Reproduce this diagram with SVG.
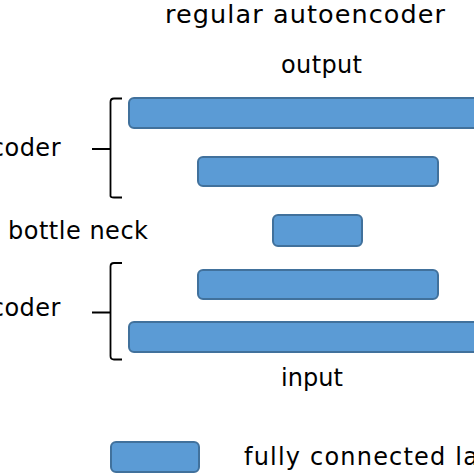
<svg xmlns="http://www.w3.org/2000/svg" width="474" height="474" viewBox="0 0 474 474">
<style>
.t{font-family:"DejaVu Sans","Liberation Sans",sans-serif;font-size:24px;fill:#000}
.bar{fill:#5b9bd5;stroke:#41719c;stroke-width:2}
.br{fill:none;stroke:#000;stroke-width:1.8}
</style>
<rect width="474" height="474" fill="#fff"/>
<text class="t" x="165" y="23" style="font-size:25.5px" textLength="280" lengthAdjust="spacing">regular autoencoder</text>
<text class="t" x="281" y="73" textLength="81" lengthAdjust="spacing">output</text>
<text class="t" x="281" y="386" textLength="62" lengthAdjust="spacing">input</text>
<text class="t" x="61" y="156" text-anchor="end" style="letter-spacing:0.5px">decoder</text>
<text class="t" x="61" y="316" text-anchor="end" style="letter-spacing:0.5px">encoder</text>
<text class="t" x="8" y="239" textLength="140" lengthAdjust="spacing">bottle neck</text>
<g id="bar-output"><rect class="bar" x="129" y="98" width="380" height="30" rx="5"/></g>
<g id="bar-dec2"><rect class="bar" x="198" y="157" width="240" height="29" rx="5"/></g>
<g id="bar-bottleneck"><rect class="bar" x="273" y="215" width="89" height="31" rx="5"/></g>
<g id="bar-enc2"><rect class="bar" x="198" y="270" width="240" height="29" rx="5"/></g>
<g id="bar-input"><rect class="bar" x="129" y="322" width="380" height="30" rx="5"/></g>
<g id="brackets">
<path class="br" d="M122,98.5 H114 Q110.5,98.5 110.5,102 V196 Q110.5,197.5 114,197.5 H122 M92,149 H110.5"/>
<path class="br" d="M122,263 H114 Q110.5,263 110.5,266.5 V356 Q110.5,359.5 114,359.5 H122 M92,312.5 H110.5"/>
</g>
<g id="legend">
<rect class="bar" x="111" y="442" width="88" height="30" rx="5"/>
<text class="t" x="244" y="465" style="letter-spacing:1.2px">fully connected layer</text>
</g>
</svg>
